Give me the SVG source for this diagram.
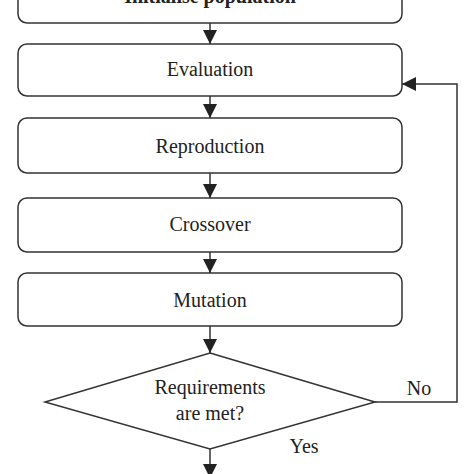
<svg xmlns="http://www.w3.org/2000/svg" width="474" height="474" viewBox="0 0 474 474">
<defs>
<marker id="ah" viewBox="0 0 14 14" refX="14" refY="7" markerWidth="14" markerHeight="14" markerUnits="userSpaceOnUse" orient="auto">
<path d="M0,0 L14,7 L0,14 Z" fill="#222"/>
</marker>
<style>
.box{fill:#fff;stroke:#333;stroke-width:1.5}
.t{font-family:"Liberation Serif",serif;font-size:20px;fill:#222;text-anchor:middle}
.c{fill:none;stroke:#333;stroke-width:1.5}
</style>
</defs>
<rect width="474" height="474" fill="#fff"/>
<g id="init">
<rect class="box" x="18" y="-30" width="384" height="53" rx="9"/>
<text class="t" x="210" y="3" font-weight="bold">Initialise population</text>
</g>
<g id="evaluation">
<rect class="box" x="18" y="44" width="384" height="52" rx="9"/>
<text class="t" x="210" y="76">Evaluation</text>
</g>
<g id="reproduction">
<rect class="box" x="18" y="118" width="384" height="55" rx="9"/>
<text class="t" x="210" y="153">Reproduction</text>
</g>
<g id="crossover">
<rect class="box" x="18" y="198" width="384" height="54" rx="9"/>
<text class="t" x="210" y="231">Crossover</text>
</g>
<g id="mutation">
<rect class="box" x="18" y="273" width="384" height="53" rx="9"/>
<text class="t" x="210" y="307">Mutation</text>
</g>
<g id="decision">
<polygon class="box" points="210,353 375,402 210,449 45,402"/>
<text class="t" x="210" y="394">Requirements</text>
<text class="t" x="210" y="420">are met?</text>
</g>
<g id="connectors">
<line class="c" x1="210" y1="23" x2="210" y2="44" marker-end="url(#ah)"/>
<line class="c" x1="210" y1="96" x2="210" y2="118" marker-end="url(#ah)"/>
<line class="c" x1="210" y1="173" x2="210" y2="198" marker-end="url(#ah)"/>
<line class="c" x1="210" y1="252" x2="210" y2="273" marker-end="url(#ah)"/>
<line class="c" x1="210" y1="326" x2="210" y2="353" marker-end="url(#ah)"/>
<polyline class="c" points="375,402 457,402 457,84 402,84" marker-end="url(#ah)"/>
<line class="c" x1="210" y1="449" x2="210" y2="478" marker-end="url(#ah)"/>
<text class="t" x="419" y="395">No</text>
<text class="t" x="304" y="453">Yes</text>
</g>
</svg>
